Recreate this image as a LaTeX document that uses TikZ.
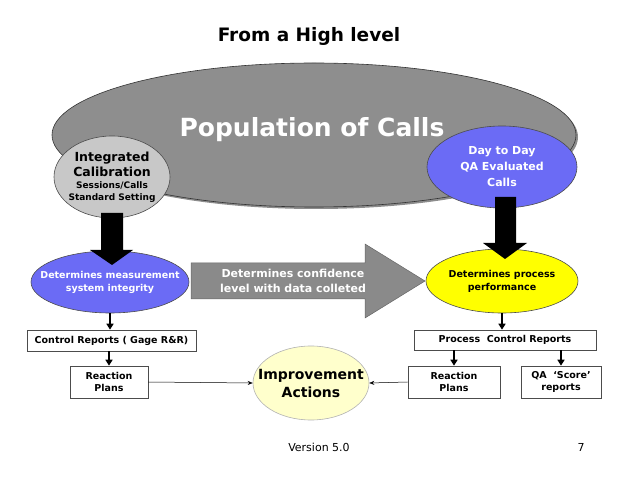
\documentclass[tikz,border=0pt]{standalone}
\usepackage{fontspec}
\setmainfont{DejaVu Sans}
\usetikzlibrary{shapes.geometric,arrows.meta}
\definecolor{popgray}{HTML}{8E8E8E}
\definecolor{calgray}{HTML}{C8C8C8}
\definecolor{qablue}{HTML}{6B6BF5}
\definecolor{detyel}{HTML}{FFFF00}
\definecolor{impyel}{HTML}{FFFFCC}
\definecolor{arrgray}{HTML}{8A8A8A}
\tikzset{
 ell/.style={ellipse,draw=black!70,line width=0.6pt,inner sep=0pt},
 txt/.style={align=center,font=\bfseries\fontsize{9.5}{13}\selectfont},
 box/.style={rectangle,draw=black!70,line width=0.6pt,fill=white,align=center,font=\bfseries\fontsize{9.5}{11.5}\selectfont,inner sep=0pt},
 con/.style={-{Triangle[length=6pt,width=7pt]},line width=1.6pt},
 thin/.style={-{Stealth[length=5pt,width=4pt]},line width=0.5pt},
 blk/.style={fill=black}
}
\begin{document}
\begin{tikzpicture}[x=1pt,y=-1pt]
\useasboundingbox (0,0) rectangle (638,478);
\node[font=\bfseries\fontsize{18.5}{22}\selectfont] (title) at (309,36) {From a High level};
% population
\fill[black!45] (316,137) ellipse [x radius=262,y radius=72];
\node[ell,fill=popgray,draw=black!80,minimum width=524pt,minimum height=144pt] (pop) at (314,135) {};
\node[text=white,font=\bfseries\fontsize{25}{28}\selectfont] (popt) at (312,130) {Population of Calls};
\node[ell,fill=calgray,minimum width=116pt,minimum height=82pt] (cal) at (112,177) {};
\node[txt,font=\bfseries\fontsize{12.5}{15}\selectfont] (calt1) at (112,164) {Integrated\\Calibration};
\node[txt,font=\bfseries\fontsize{9}{11.5}\selectfont] (calt2) at (112,192) {Sessions/Calls\\Standard Setting};
\node[ell,fill=qablue,minimum width=150pt,minimum height=82pt] (qa) at (502,167) {};
\node[txt,text=white,font=\bfseries\fontsize{11}{16}\selectfont] (qat) at (502,167) {Day to Day\\QA Evaluated\\Calls};
\node[ell,fill=qablue,minimum width=158pt,minimum height=62pt] (meas) at (110,282) {};
\node[txt,text=white] (meast) at (110,282) {Determines measurement\\system integrity};
\node[ell,fill=detyel,minimum width=152pt,minimum height=64pt] (proc) at (502,281) {};
\node[txt] (proct) at (502,281) {Determines process\\performance};
% black arrows
\fill[blk] (101,213) -- (123,213) -- (123,250) -- (133,250) -- (112,265) -- (90,250) -- (101,250) -- cycle;
\fill[blk] (495,197) -- (516,197) -- (516,243) -- (527,243) -- (505,259) -- (483,243) -- (495,243) -- cycle;
% gray arrow
\fill[arrgray,draw=black!60,line width=0.5pt] (191,263) -- (365,263) -- (365,244) -- (425,281) -- (365,318) -- (365,299) -- (191,299) -- cycle;
\node[txt,text=white,font=\bfseries\fontsize{11}{15}\selectfont] (conf) at (293,281) {Determines confidence\\level with data colleted};
% boxes
\node[box,minimum width=169pt,minimum height=21pt] (cr) at (111.5,340.5) {Control Reports ( Gage R\&R)};
\node[box,minimum width=182pt,minimum height=20pt] (pcr) at (505,340) {Process\ \ Control Reports};
\node[box,minimum width=78pt,minimum height=32pt] (rp1) at (109,382) {Reaction\\Plans};
\node[box,minimum width=92pt,minimum height=32pt] (rp2) at (454,382) {Reaction\\Plans};
\node[box,minimum width=80pt,minimum height=32pt] (qs) at (561,382) {QA\ \ ‘Score’\\reports};
\node[ell,fill=impyel,draw=black!30,minimum width=116pt,minimum height=74pt] (imp) at (311,383) {};
\node[txt,font=\bfseries\fontsize{14}{18}\selectfont] (impt) at (311,383) {Improvement\\Actions};
% connectors
\draw[con] (meas.south) -- (meas.south |- cr.north);
\draw[con] (proc.south) -- (proc.south |- pcr.north);
\draw[con] (rp1.north |- cr.south) -- (rp1.north);
\draw[con] (rp2.north |- pcr.south) -- (rp2.north);
\draw[con] (qs.north |- pcr.south) -- (qs.north);
\draw[thin] (rp1.east) -- (imp.west);
\draw[thin] (rp2.west) -- (imp.east);
\node[font=\fontsize{11}{13}\selectfont] (ver) at (319,447) {Version 5.0};
\node[font=\fontsize{11}{13}\selectfont] (pg) at (581,447) {7};
\end{tikzpicture}
\end{document}
